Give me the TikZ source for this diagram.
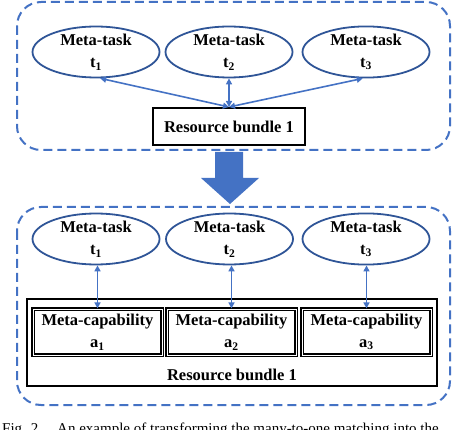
\documentclass[tikz,border=0pt]{standalone}
\usepackage{fontspec}
\setmainfont{Liberation Serif}
\usetikzlibrary{arrows.meta,shapes.geometric}

\definecolor{dashBlue}{RGB}{68,114,196}
\definecolor{ringBlue}{RGB}{47,85,151}
\newcommand{\taskfont}{\fontsize{16.5}{22}\selectfont\bfseries}

\tikzset{
  bundleArea/.style={draw=dashBlue, line width=2pt, dash pattern=on 9pt off 5pt, rounded corners=24pt},
  metaTask/.style={ellipse, draw=ringBlue, line width=1.8pt, minimum width=127pt, minimum height=50pt,
    inner sep=0pt, align=center, font=\taskfont},
  link/.style={draw=dashBlue, line width=1.6pt, {Triangle[width=6pt,length=6pt]}-{Triangle[width=6pt,length=6pt]}},
  resBox/.style={draw=black, line width=2pt, inner sep=0pt, font=\taskfont},
  capBox/.style={draw=black, double=white, double distance=0.9pt, line width=1.2pt, minimum width=129pt,
    minimum height=46pt, inner sep=0pt, align=center, font=\taskfont}
}

\begin{document}
\begin{tikzpicture}[x=1pt,y=-1pt]
\useasboundingbox (0,0) rectangle (474,430);
\clip (0,0) rectangle (474,430);

% many-to-one
\draw[bundleArea] (17,2) rectangle (450,150);
\node[metaTask] (taskUp1) at (96,52) {Meta-task\\t\textsubscript{1}};
\node[metaTask] (taskUp2) at (229,52) {Meta-task\\t\textsubscript{2}};
\node[metaTask] (taskUp3) at (366,52) {Meta-task\\t\textsubscript{3}};
\node[resBox, minimum width=152pt, minimum height=37pt] (bundleUp) at (229,126.5) {Resource bundle 1};
\draw[link] (taskUp1.-81) -- (bundleUp.north);
\draw[link] (taskUp2.south) -- (bundleUp.north);
\draw[link] (taskUp3.-97) -- (bundleUp.north);

% transform
\fill[dashBlue] (215,152) -- (243,152) -- (243,178) -- (259,178) -- (230,204) -- (201,178) -- (215,178) -- cycle;

% one-to-one
\draw[bundleArea] (17,207) rectangle (450,405);
\node[metaTask] (taskLow1) at (96,239) {Meta-task\\t\textsubscript{1}};
\node[metaTask] (taskLow2) at (229.5,239) {Meta-task\\t\textsubscript{2}};
\node[metaTask] (taskLow3) at (366,239) {Meta-task\\t\textsubscript{3}};
\node[resBox, minimum width=410pt, minimum height=87pt] (bundleLow) at (232,342.5) {};
\node[font=\taskfont] (bundleLowText) at ([yshift=12pt]bundleLow.south) {Resource bundle 1};
\node[capBox] (capA1) at (97.5,332) {Meta-capability\\a\textsubscript{1}};
\node[capBox] (capA2) at (231.5,332) {Meta-capability\\a\textsubscript{2}};
\node[capBox] (capA3) at (366.5,332) {Meta-capability\\a\textsubscript{3}};
\draw[link] (capA1.north |- taskLow1.south) -- (capA1.north);
\draw[link] (capA2.north |- taskLow2.south) -- (capA2.north);
\draw[link] (capA3.north |- taskLow3.south) -- (capA3.north);

\node[anchor=base west, inner sep=0pt, font=\fontsize{15}{18}\selectfont] (caption) at (2,433)
  {Fig. 2.\quad An example of transforming the many-to-one matching into the};
\end{tikzpicture}
\end{document}
